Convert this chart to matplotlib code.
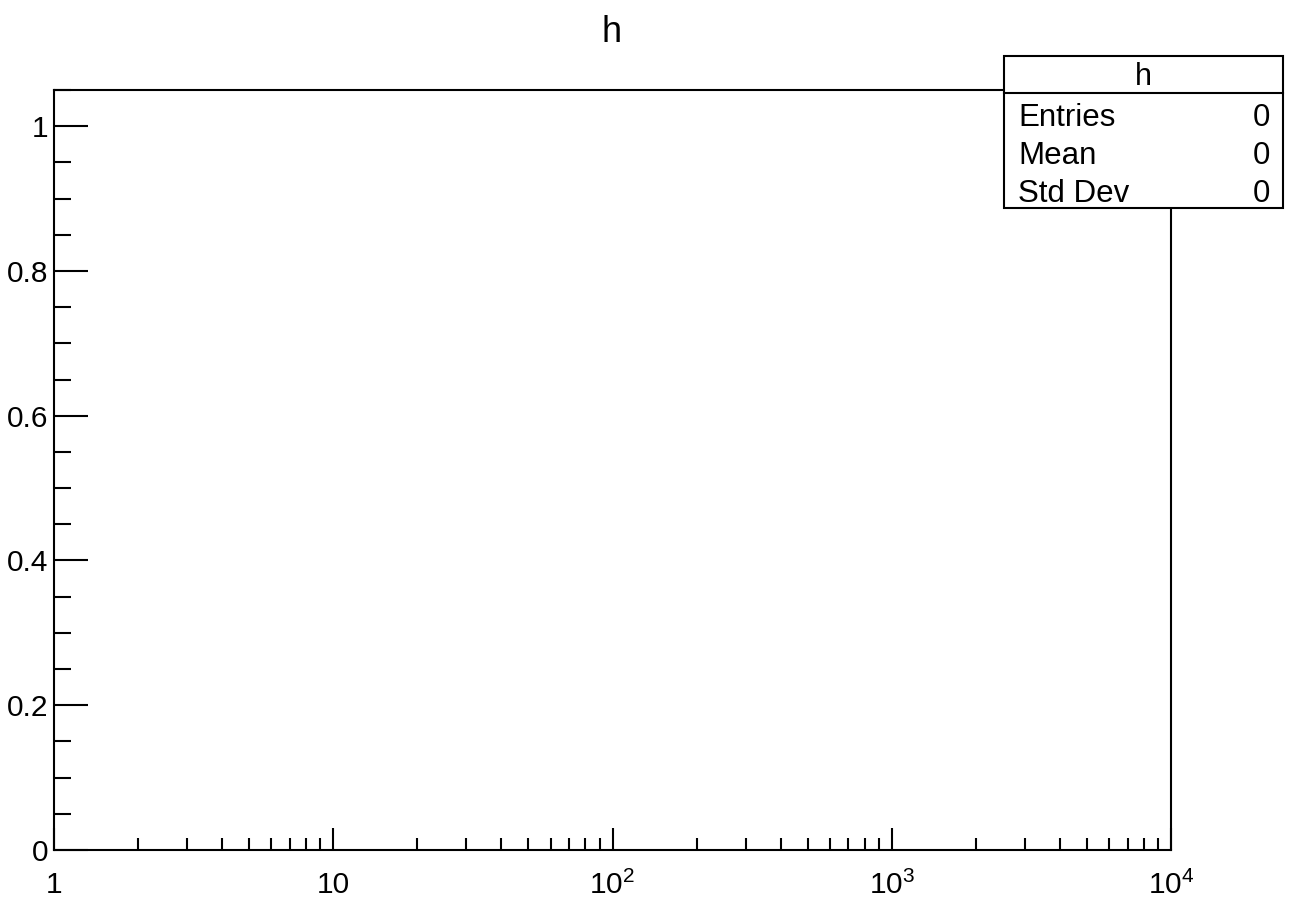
import numpy as np
import matplotlib
matplotlib.use('Agg')
import matplotlib.pyplot as plt
from matplotlib.ticker import FixedLocator, MultipleLocator

plt.rcParams['font.family'] = ['Liberation Sans', 'DejaVu Sans']
plt.rcParams['mathtext.fontset'] = 'custom'
plt.rcParams['mathtext.rm'] = 'Liberation Sans'
plt.rcParams['mathtext.it'] = 'Liberation Sans'

# histogram "h" - no entries
title = 'h'
bin_counts = []
stat_names = ['Entries', 'Mean', 'Std Dev']
stat_values = ['0', '0', '0']
x_major = [1, 10, 100, 1000, 10000]
x_labels = ['1', '10', '$10^{2}$', '$10^{3}$', '$10^{4}$']
y_major = [0, 0.2, 0.4, 0.6, 0.8, 1.0]
y_labels = ['0', '0.2', '0.4', '0.6', '0.8', '1']

PX = 0.72  # points per pixel at dpi 100

fig = plt.figure(figsize=(12.98, 9.02), dpi=100)
ax = fig.add_axes([54 / 1298, 1 - 850 / 902, (1171 - 54) / 1298, (850 - 90) / 902])
ax.set_xscale('log')
ax.set_xlim(1, 1e4)
ax.set_ylim(0, 1.05)

ax.xaxis.set_major_locator(FixedLocator(x_major))
ax.set_xticklabels(x_labels)
ax.xaxis.set_minor_locator(FixedLocator(
    [m * d for d in x_major[:-1] for m in range(2, 10)]))
ax.xaxis.set_minor_formatter(plt.NullFormatter())
ax.yaxis.set_major_locator(FixedLocator(y_major))
ax.set_yticklabels(y_labels)
ax.yaxis.set_minor_locator(MultipleLocator(0.05))

ax.tick_params(axis='both', which='both', direction='in', width=1.5,
               color='black', labelsize=21.5, top=False, right=False)
ax.tick_params(axis='y', which='major', length=34 * PX, pad=6 * PX)
ax.tick_params(axis='y', which='minor', length=17 * PX)
ax.tick_params(axis='x', which='major', length=22 * PX, pad=21 * PX)
ax.tick_params(axis='x', which='minor', length=12 * PX)
for s in ax.spines.values():
    s.set_linewidth(1.5)

fig.text(612 / 1298, 1 - 32 / 902, title, ha='center', va='center', fontsize=26)

# stats box
bx0, bx1, by0, by1 = 1004 / 1298, 1283 / 1298, 1 - 208 / 902, 1 - 56 / 902
fig.patches.append(plt.Rectangle((bx0, by0), bx1 - bx0, by1 - by0,
                                 transform=fig.transFigure, facecolor='white',
                                 edgecolor='black', linewidth=1.5, zorder=5))
ydiv = 1 - 93 / 902
fig.add_artist(plt.Line2D([bx0, bx1], [ydiv, ydiv], transform=fig.transFigure,
                          color='black', linewidth=1.5, zorder=6))
fig.text((bx0 + bx1) / 2, 1 - 77 / 902, title, ha='center', va='center',
         fontsize=22, zorder=7)
for i, (n, v) in enumerate(zip(stat_names, stat_values)):
    yy = 1 - (117.5 + i * 38) / 902
    fig.text(1018 / 1298, yy, n, ha='left', va='center', fontsize=22.5, zorder=7)
    fig.text(1270 / 1298, yy, v, ha='right', va='center', fontsize=22.5, zorder=7)

fig.savefig('out.png', dpi=100)
